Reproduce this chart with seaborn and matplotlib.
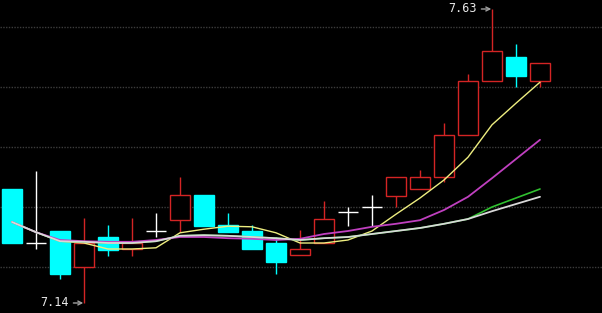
import matplotlib
matplotlib.use("Agg")
import matplotlib.pyplot as plt
import seaborn as sns
import numpy as np

# ---- data ----
opens  = [7.330, 7.240, 7.260, 7.200, 7.250, 7.230, 7.260, 7.278, 7.320, 7.270, 7.260, 7.240,
          7.220, 7.240, 7.292, 7.300, 7.318, 7.330, 7.350, 7.420, 7.510, 7.550, 7.510]
highs  = [7.330, 7.360, 7.260, 7.282, 7.270, 7.282, 7.290, 7.350, 7.320, 7.290, 7.270, 7.250,
          7.262, 7.310, 7.300, 7.320, 7.350, 7.362, 7.440, 7.522, 7.630, 7.572, 7.540]
lows   = [7.240, 7.230, 7.180, 7.140, 7.218, 7.218, 7.250, 7.258, 7.268, 7.258, 7.230, 7.188,
          7.220, 7.240, 7.268, 7.268, 7.300, 7.330, 7.342, 7.420, 7.510, 7.500, 7.500]
closes = [7.240, 7.240, 7.188, 7.240, 7.228, 7.240, 7.260, 7.320, 7.268, 7.258, 7.230, 7.208,
          7.230, 7.280, 7.292, 7.300, 7.350, 7.350, 7.420, 7.510, 7.560, 7.518, 7.540]

ma_yellow  = [7.275, 7.258, 7.243, 7.240, 7.230, 7.230, 7.232, 7.257, 7.263, 7.268, 7.267, 7.257,
              7.240, 7.240, 7.245, 7.260, 7.288, 7.315, 7.345, 7.383, 7.437, 7.473, 7.508]
ma_magenta = [7.275, 7.258, 7.245, 7.243, 7.242, 7.242, 7.245, 7.250, 7.250, 7.248, 7.247, 7.245,
              7.247, 7.255, 7.260, 7.267, 7.272, 7.278, 7.295, 7.317, 7.348, 7.380, 7.412]
ma_green   = [7.275, 7.258, 7.243, 7.242, 7.240, 7.240, 7.243, 7.252, 7.253, 7.252, 7.250, 7.248,
              7.245, 7.248, 7.250, 7.255, 7.260, 7.265, 7.272, 7.280, 7.300, 7.315, 7.330]
ma_white   = [7.275, 7.258, 7.243, 7.242, 7.240, 7.240, 7.243, 7.252, 7.253, 7.252, 7.250, 7.248,
              7.245, 7.248, 7.250, 7.255, 7.260, 7.265, 7.272, 7.280, 7.293, 7.305, 7.317]

grid_levels = [7.2, 7.3, 7.4, 7.5, 7.6]

# ---- figure ----
sns.set_style("dark")
fig = plt.figure(figsize=(6.02, 3.13), dpi=100, facecolor="black")
ax = fig.add_axes([0, 0, 1, 1])
ax.set_facecolor("black")
ax.set_xlim(-0.5, 24.583)
ax.set_ylim(7.2 - 46 / 600, 7.2 + 267 / 600)
for s in ax.spines.values():
    s.set_visible(False)
ax.set_xticks([])
ax.set_yticks([])
ax.grid(False)

for g in grid_levels:
    ax.axhline(g, color="#3c3c3c", lw=1, ls=(0, (1, 1)), zorder=0)

RED = "#d42424"
CYAN = "#00ffff"
W = 0.83
x = np.arange(len(opens))

for i in x:
    o, h, l, c = opens[i], highs[i], lows[i], closes[i]
    if abs(c - o) < 1e-9:
        ax.vlines(i, l, h, color="white", lw=1, zorder=2)
        ax.hlines(o, i - W / 2, i + W / 2, color="white", lw=1, zorder=2)
    elif c > o:
        ax.vlines(i, l, o, color=RED, lw=1, zorder=2)
        ax.vlines(i, c, h, color=RED, lw=1, zorder=2)
        ax.bar(i, c - o, bottom=o, width=W, facecolor="black", edgecolor=RED, lw=1, zorder=2)
    else:
        ax.vlines(i, l, h, color=CYAN, lw=1, zorder=2)
        ax.bar(i, o - c, bottom=c, width=W, facecolor=CYAN, edgecolor=CYAN, lw=1, zorder=3)

sns.lineplot(x=x, y=ma_yellow, color="#eeee80", lw=1.0, ax=ax, zorder=4, legend=False)
sns.lineplot(x=x, y=ma_green, color="#30c030", lw=1.2, ax=ax, zorder=4, legend=False)
sns.lineplot(x=x, y=ma_magenta, color="#c040c0", lw=1.3, ax=ax, zorder=4, legend=False)
sns.lineplot(x=x, y=ma_white, color="#d8d8d8", lw=1.3, ax=ax, zorder=4, legend=False)

ax.set_xlim(-0.5, 24.583)
ax.set_ylim(7.2 - 46 / 600, 7.2 + 267 / 600)
ax.set_xlabel("")
ax.set_ylabel("")

i_hi = int(np.argmax(highs))
i_lo = int(np.argmin(lows))
for idx, val in [(i_hi, highs[i_hi]), (i_lo, lows[i_lo])]:
    ax.annotate(f"{val:.2f}", xy=(idx - 0.03, val), xytext=(-10.5, 0), textcoords="offset points",
                ha="right", va="center", color="#e8e8e8", fontsize=8.5,
                family="DejaVu Sans Mono", zorder=6,
                arrowprops=dict(arrowstyle="->", color="#a0a0a0", lw=1,
                                shrinkA=1, shrinkB=0, mutation_scale=7))

fig.savefig("out.png", dpi=100, facecolor="black")
